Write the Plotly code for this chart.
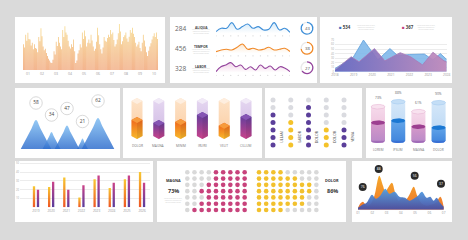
import numpy as np
import plotly.graph_objects as go

W, H = 468, 240
FONT = "Open Sans, Roboto, sans-serif"

# ---------------- data ----------------
spike_values = [
    55, 48, 75, 62, 79, 66, 65, 52, 58, 44,
    55, 47, 45, 38, 70, 61, 89, 72, 50, 42,
    45, 36, 30, 24, 20, 16, 15, 22, 40, 33,
    60, 51, 70, 58, 50, 44, 85, 70, 93, 80,
    75, 62, 50, 46, 55, 49, 65, 40, 15, 20,
    35, 42, 55, 48, 80, 66, 84, 72, 50, 58,
    65, 57, 75, 63, 50, 41, 45, 60, 90, 74,
    55, 44, 35, 48, 70, 62, 60, 68, 75, 70,
    85, 76, 80, 64, 50, 55, 65, 78, 98, 82,
    55, 61, 70, 74, 80, 67, 60, 71, 85, 79,
    90, 77, 70, 58, 50, 54, 60, 47, 40, 58,
    75, 63, 50, 38, 30, 41, 50, 57, 65, 72,
    78, 70, 80, 66]
spike_ticks = ["01", "02", "03", "04", "05", "06", "07", "08", "09", "10"]

kpi_numbers = ["284", "456", "328"]
kpi_names = ["ALIQUA", "TEMPOR", "LABOR"]
ring_numbers = ["43", "38", "27"]
ring_share = [88, 74, 66]
spark_aliqua = [5, 15, 15, 32, 12, 20, 28, 15, 20, 10, 12, 32, 10, 15, 3]
spark_tempor = [5, 10, 12, 10, 18, 28, 12, 15, 10, 12, 18, 10, 12, 15, 5]
spark_labor = [3, 18, 23, 30, 18, 23, 10, 18, 8, 23, 13, 20, 8, 18, 13, 3]

area_years = [2018, 2019, 2020, 2021, 2022, 2023, 2024]
area_yticks = ["0", "10", "20", "30", "40", "50", "60", "70"]
area_blue_x = [2018.0, 2018.98, 2019.53, 2020.3, 2020.95, 2021.38, 2022.0, 2022.8, 2023.26, 2023.66, 2024.0]
area_blue_y = [0.7, 3.2, 7.0, 2.6, 5.1, 3.5, 3.8, 3.9, 2.6, 4.0, 2.7]
area_purple_x = [2018.0, 2018.87, 2019.29, 2020.12, 2020.68, 2021.5, 2022.06, 2022.7, 2023.26, 2023.85, 2024.0]
area_purple_y = [0.4, 3.3, 2.2, 5.1, 2.4, 4.2, 3.3, 1.5, 4.3, 2.4, 2.2]
legend_values = ["534", "367"]

peak_values = [58, 34, 47, 21, 62]

prism_names = ["DOLOR", "MAGNA", "MINIM", "IRURE", "VELIT", "CILLUM"]
prism_levels = [46, 37, 40, 60, 29, 54]

dot_names = ["ULLAM", "LABOR", "DOLOR", "DOLOR", "VENIA"]
dot_filled = [5, 4, 6, 3, 3]
dot_total = 7

cyl_names = ["LOREM", "IPSUM", "MAGNA", "DOLOR"]
cyl_pct = ["73%", "88%", "61%", "90%"]
cyl_height = [34, 39, 29, 38]
cyl_level = [18, 20, 14, 13]

bar_years = ["2019", "2020", "2021", "2022", "2023", "2024", "2025", "2026"]
bar_yticks = ["10", "20", "30", "40", "50"]
bar_orange = [24, 23, 34, 11, 32, 22, 32, 40]
bar_purple = [20, 29, 20, 25, 36, 28, 36, 28]

magna_rows = [5, 5, 6, 7, 6, 7, 8]
dolor_rows = [4, 6, 8, 8, 7, 7, 4]
matrix_cols = 9
magna_pct, dolor_pct = "73%", "86%"

flow_ticks = ["01", "02", "03", "04", "05", "06", "07"]
flow_orange_x = [1.0, 1.15, 1.35, 1.6, 1.85, 2.15, 2.49, 2.75, 2.91, 3.1, 3.38, 3.6, 3.85, 4.08,
                 4.35, 4.6, 4.9, 5.15, 5.48, 5.8, 6.1, 6.45, 6.77, 7.0]
flow_orange_y = [2, 6, 8, 4, 5, 14, 34, 24, 18, 22, 27, 17, 9, 12, 10, 15, 23, 14, 6, 4, 5, 7, 13, 3]
flow_blue_x = [1.0, 1.3, 1.6, 1.98, 2.25, 2.55, 2.91, 3.2, 3.57, 3.9, 4.3, 4.6, 4.9, 5.2, 5.48,
               5.8, 6.06, 6.3, 6.5, 6.75, 7.0]
flow_blue_y = [2, 5, 7, 15, 11, 14, 21, 16, 18, 13, 12, 9, 11, 14, 18, 12, 13, 9, 12, 7, 3]
flow_badge_x = [1.33, 2.45, 4.97, 6.81]
flow_badge_y = [22.7, 40.7, 34, 26]
flow_badge_text = ["76", "88", "56", "37"]

LOREM = "Lorem ipsum dolor sit amet,<br>consectetur adipiscing elit<br>sed do eiusmod tempor"

# ---------------- helpers ----------------
fig = go.Figure()
LA = {}
ANN = []


def axes(n, xpx, ypx, xr, yr, xkw=None, ykw=None):
    base = dict(showgrid=False, zeroline=False, showticklabels=False, ticks='',
                showline=False, fixedrange=True, automargin=False)
    xn = 'x' if n == 1 else f'x{n}'
    yn = 'y' if n == 1 else f'y{n}'
    xa = dict(base, domain=[xpx[0] / W, xpx[1] / W], range=list(xr), anchor=yn)
    ya = dict(base, domain=[1 - ypx[1] / H, 1 - ypx[0] / H], range=list(yr), anchor=xn)
    if xkw:
        xa.update(xkw)
    if ykw:
        ya.update(ykw)
    LA['xaxis' if n == 1 else f'xaxis{n}'] = xa
    LA['yaxis' if n == 1 else f'yaxis{n}'] = ya
    return xn, yn


def vgrad(bottom, top, ys):
    vals = [v for v in ys if v is not None]
    return dict(type='vertical', start=float(min(min(vals), 0) if False else min(vals)),
                stop=float(max(vals)), colorscale=[[0, bottom], [1, top]])


def poly(ax, xs, ys, color=None, grad=None, line=None, shape='linear', fill='toself'):
    xs, ys = list(xs), list(ys)
    kw = dict(x=xs, y=ys, xaxis=ax[0], yaxis=ax[1], mode='lines', fill=fill,
              hoverinfo='skip', showlegend=False)
    kw['line'] = line if line else dict(width=0, shape=shape)
    if grad:
        kw['fillgradient'] = vgrad(grad[0], grad[1], ys)
    else:
        kw['fillcolor'] = color
    fig.add_trace(go.Scatter(**kw))


def text(xp, yp, s, size, color='#555', bold=False, xanchor='center', angle=0, xref='paper', yref='paper'):
    x = xp / W if xref == 'paper' else xp
    y = 1 - yp / H if yref == 'paper' else yp
    ANN.append(dict(x=x, y=y, xref=xref, yref=yref, text=f'<b>{s}</b>' if bold else s,
                    showarrow=False, font=dict(size=size, color=color, family=FONT),
                    xanchor=xanchor, yanchor='middle', textangle=angle))


# ---------------- panels (white cards) ----------------
cards = [(15, 17, 165, 83), (170, 17, 317, 83), (320, 17, 452, 83),
         (15, 88, 120, 158), (123, 88, 262, 158), (265, 88, 362, 158), (366, 88, 452, 158),
         (15, 161, 153, 222), (157, 161, 346, 222), (352, 161, 452, 222)]
shapes = [dict(type='rect', xref='paper', yref='paper', x0=a / W, x1=c / W, y0=1 - d / H, y1=1 - b / H,
               fillcolor='white', line=dict(width=0), layer='below') for a, b, c, d in cards]

# ---------------- panel 1: dense spike bars ----------------
n1 = len(spike_values)
tick_px = np.linspace(28, 154, len(spike_ticks))
ax = axes(1, (23, 158), (23, 70), (-0.5, n1 - 0.5), (0, 100),
          xkw=dict(showticklabels=True, tickvals=list((tick_px - 23) / 135 * n1 - 0.5),
                   ticktext=spike_ticks, tickfont=dict(size=3.5, color='#9a9a9a', family=FONT)))
xs, ys = [], []
for i, v in enumerate(spike_values):
    xs += [i - 0.36, i - 0.36, i + 0.36, i + 0.36, None]
    ys += [0, v, v, 0, None]
poly(ax, xs, ys, grad=('#f0a070', '#f7dc8a'))

# ---------------- panel 2: sparklines with rings ----------------
rows = [(spark_aliqua, 33.3, 'rgba(85,170,230,'),
        (spark_tempor, 53.3, 'rgba(244,160,60,'),
        (spark_labor, 72.7, 'rgba(200,80,160,')]
ring_cols = ['#3f8fd8', '#f08a2a', '#93439c']
for k, (vals, base, fc) in enumerate(rows):
    n = len(vals)
    ax = axes(2 + k, (216, 290), (base - 11.7, base + 3.5), (0, n - 1), (-10.5, 35))
    fig.add_trace(go.Scatter(x=list(range(n)), y=vals, xaxis=ax[0], yaxis=ax[1], mode='lines',
                             line=dict(width=1.1, color=ring_cols[k], shape='spline', smoothing=1.2),
                             fill='tozeroy', fillgradient=vgrad(fc + '0)', fc + '0.25)', [0] + vals),
                             hoverinfo='skip', showlegend=False))
    fig.add_trace(go.Scatter(x=list(np.linspace(0, n - 1, 11)), y=[-8] * 11, xaxis=ax[0], yaxis=ax[1],
                             mode='markers', marker=dict(size=1.2, color='#cfcfcf'),
                             hoverinfo='skip', showlegend=False))
    cy = base - 5
    text(180, cy + 0.5, kpi_numbers[k], 6.5, '#666')
    text(201, cy - 1.3, kpi_names[k], 3.3, '#444', bold=True)
    text(201, cy + 3.2, LOREM, 1.4, '#cfcfcf')
    fig.add_trace(go.Pie(values=[ring_share[k], 100 - ring_share[k]], hole=0.8, sort=False,
                         direction='clockwise', textinfo='none', hoverinfo='skip', showlegend=False,
                         marker=dict(colors=[ring_cols[k], '#e9e9e9'], line=dict(width=0)),
                         domain=dict(x=[300.5 / W, 313.5 / W], y=[1 - (cy + 6.5) / H, 1 - (cy - 6.5) / H])))
    text(307, cy, ring_numbers[k], 4.3, '#555')

# ---------------- panel 3: overlapping area chart ----------------
ax = axes(5, (335, 446.7), (40, 71.7), (2018, 2024), (0, 7),
          xkw=dict(showticklabels=True, tickvals=area_years, ticktext=[str(y) for y in area_years],
                   tickfont=dict(size=3.2, color='#999', family=FONT)),
          ykw=dict(showgrid=True, gridcolor='#ececec', gridwidth=0.6, tickvals=list(range(8)),
                   showticklabels=True, ticktext=area_yticks,
                   tickfont=dict(size=2.6, color='#aaa', family=FONT)))
fig.add_trace(go.Scatter(x=area_blue_x, y=area_blue_y, xaxis=ax[0], yaxis=ax[1], mode='lines',
                         line=dict(width=0.8, color='#5f9fdc'), fill='tozeroy', fillcolor='rgba(128,184,234,0.9)',
                         hoverinfo='skip', showlegend=False))
fig.add_trace(go.Scatter(x=area_purple_x, y=area_purple_y, xaxis=ax[0], yaxis=ax[1], mode='lines',
                         line=dict(width=0.8, color='#a77ab8'), fill='tozeroy',
                         fillgradient=dict(type='horizontal', start=2018, stop=2024,
                                           colorscale=[[0, 'rgba(104,104,192,0.92)'], [1, 'rgba(196,138,186,0.92)']]),
                         hoverinfo='skip', showlegend=False))
text(337, 27.3, f"<span style='color:#3f6fbf'>■</span> <b>{legend_values[0]}</b>", 4.4, '#444', xanchor='left')
text(400, 27.3, f"<span style='color:#c2407f'>■</span> <b>{legend_values[1]}</b>", 4.4, '#444', xanchor='left')
text(355, 27.5, LOREM, 1.4, '#cfcfcf', xanchor='left')
text(415, 27.5, LOREM, 1.4, '#cfcfcf', xanchor='left')

# ---------------- panel 4: mountains with bubbles ----------------
step4 = 15.5
ax = axes(6, (20, 116), (92, 149), (-(36 - 20) / step4, (116 - 36) / step4), (0, 114))
for i, v in enumerate(peak_values):
    hw = (v * 0.5 / 1.9) / step4
    poly(ax, [i - hw, i - 0.3 * hw, i, i + 0.3 * hw, i + hw],
         [0, 0.7 * v, v, 0.7 * v, 0], grad=('rgba(48,110,205,0.85)', 'rgba(128,190,242,0.85)'),
         shape='spline')
fig.add_trace(go.Scatter(x=list(range(len(peak_values))), y=[v + 34 for v in peak_values],
                         xaxis=ax[0], yaxis=ax[1], mode='markers+text', text=[str(v) for v in peak_values],
                         textfont=dict(size=4.8, color='#444', family=FONT), textposition='middle center',
                         marker=dict(size=12.5, color='white', line=dict(color='#cfcfcf', width=0.8)),
                         hoverinfo='skip', showlegend=False))

# ---------------- panel 5: hexagonal prisms ----------------
step5 = 21.8
ax = axes(7, (125, 260), (95, 141), (-(137 - 125) / step5, (260 - 137) / step5), (-14.3, 117.1))
w, d = 5.5 / step5, 8.6
pal5 = [dict(lb='#fbcba0', lt='#fde3c8', face0='#feeedf', fb='#f8ba2a', ft='#ee5d1c', face='#f69a3c'),
        dict(lb='#cdb6e2', lt='#e6d8f1', face0='#f1eaf7', fb='#ca428a', ft='#5a3f9e', face='#8655b4')]
for i, L in enumerate(prism_levels):
    p = pal5[i % 2]
    poly(ax, [i - w, i, i + w, i + w, i, i - w], [0, -d, 0, 100, 100 + d, 100], grad=(p['lb'], p['lt']))
    poly(ax, [i - w, i, i + w, i], [100, 100 + d, 100, 100 - d], color=p['face0'])
    poly(ax, [i - w, i, i + w, i + w, i, i - w], [0, -d, 0, L, L + d, L], grad=(p['fb'], p['ft']))
    poly(ax, [i, i + w, i + w, i], [-d, 0, L, L - d], color='rgba(0,0,0,0.07)')
    poly(ax, [i - w, i, i + w, i], [L, L + d, L, L - d], color=p['face'])
    text(i, 146, prism_names[i], 3.2, '#777', xref=ax[0])

# ---------------- panel 6: dot columns ----------------
step6 = 17.75
ax = axes(8, (265, 362), (92, 152), ((265 - 273) / step6, (362 - 273) / step6), ((145 - 152) / 7.5, (145 - 92) / 7.5))
dcol = ['#5b3f9a', '#f4c22a', '#5b3f9a', '#f4c22a', '#5b3f9a']
dx, dy, dc = [], [], []
for i, f in enumerate(dot_filled):
    for j in range(dot_total):
        dx.append(i)
        dy.append(j)
        dc.append(dcol[i] if j < f else '#dadbe0')
fig.add_trace(go.Scatter(x=dx, y=dy, xaxis=ax[0], yaxis=ax[1], mode='markers',
                         marker=dict(size=5, color=dc), hoverinfo='skip', showlegend=False))
for i, nm in enumerate(dot_names):
    text(i + 0.47, 1.13, nm, 3.6, '#555', angle=-90, xref=ax[0], yref=ax[1])

# ---------------- panel 7: cylinders ----------------
step7 = 20.2
ax = axes(9, (366, 452), (88, 158), (-(378 - 366) / step7, (452 - 378) / step7), (-17.3, 52.7))
rx, ry = 7 / step7, 2.3
t_lo = np.linspace(np.pi, 2 * np.pi, 24)
t_hi = np.linspace(0, np.pi, 24)
t_all = np.linspace(0, 2 * np.pi, 48)
pal7 = [dict(bb='#e9b6d6', bt='#f6dcec', top='#f8e2ef', tl='#e4b0d0', fb='#b889c8', ft='#d99bc9',
             lev='#9c3f90', bot='#a06cb8'),
        dict(bb='#b3d3f3', bt='#d6e8f9', top='#c4def6', tl='#9fc6ee', fb='#3f84dc', ft='#66a9ea',
             lev='#1b78d3', bot='#3a70d4')]
for i, (hgt, lev) in enumerate(zip(cyl_height, cyl_level)):
    p = pal7[i % 2]

    def body(top):
        bx = list(i + rx * np.cos(t_lo)) + list(i + rx * np.cos(t_hi))
        by = list(ry * np.sin(t_lo)) + list(top + ry * np.sin(t_hi))
        return bx, by
    bx, by = body(hgt)
    poly(ax, bx, by, grad=(p['bb'], p['bt']))
    poly(ax, i + rx * np.cos(t_all), hgt + ry * np.sin(t_all), color=p['top'],
         line=dict(width=0.5, color=p['tl']))
    bx, by = body(lev)
    poly(ax, bx, by, grad=(p['fb'], p['ft']))
    poly(ax, i + rx * np.cos(t_lo), ry * np.sin(t_lo), color=p['bot'], fill='toself')
    poly(ax, i + rx * np.cos(t_all), lev + ry * np.sin(t_all), color=p['lev'])
    text(i, hgt + 9, cyl_pct[i], 3.3, '#666', xref=ax[0], yref=ax[1])
    text(i, 150.3, cyl_names[i], 3.1, '#777', xref=ax[0])

# ---------------- panel 8: grouped gradient bars ----------------
step8 = 15.15
ax = axes(10, (20, 150), (160, 207.3), (-(36 - 20) / step8, (150 - 36) / step8), (0, (207.3 - 160) / 0.88),
          xkw=dict(showticklabels=True, tickvals=list(range(len(bar_years))), ticktext=bar_years,
                   tickfont=dict(size=3.2, color='#999', family=FONT)),
          ykw=dict(showgrid=True, gridcolor='#ececec', gridwidth=0.6, tickvals=[10, 20, 30, 40, 50],
                   ticktext=bar_yticks, showticklabels=True, tickfont=dict(size=2.6, color='#aaa', family=FONT)))
bw = 2.3 / step8
for i, (o, pu) in enumerate(zip(bar_orange, bar_purple)):
    c = i - 2 / step8
    poly(ax, [c - bw / 2, c - bw / 2, c + bw / 2, c + bw / 2], [0, o, o, 0], grad=('#ee5424', '#f8c832'))
    c = i + 2 / step8
    poly(ax, [c - bw / 2, c - bw / 2, c + bw / 2, c + bw / 2], [0, pu, pu, 0], grad=('#573c9c', '#cc4288'))

# ---------------- panel 9: dot matrices ----------------
step9 = 7.17
ax = axes(11, (180, 324), (166, 216), ((180 - 187.3) / step9, (324 - 187.3) / step9),
          ((216 - 172.3) / 6.28, (166 - 172.3) / 6.28))
mx, my, mc = [], [], []
for r, cnt in enumerate(magna_rows):
    for c in range(matrix_cols):
        mx.append(c)
        my.append(r)
        mc.append('#c8437c' if c >= matrix_cols - cnt else '#d9d9d9')
for r, cnt in enumerate(dolor_rows):
    for c in range(matrix_cols):
        mx.append(10 + c)
        my.append(r)
        mc.append('#f2c12e' if c < cnt else '#d9d9d9')
fig.add_trace(go.Scatter(x=mx, y=my, xaxis=ax[0], yaxis=ax[1], mode='markers',
                         marker=dict(size=4.6, color=mc), hoverinfo='skip', showlegend=False))
text(173, 180, 'MAGNA', 3.8, '#333', bold=True)
text(173, 191, magna_pct, 5.5, '#333', bold=True)
text(173, 200, LOREM, 1.4, '#cfcfcf')
text(332, 180, 'DOLOR', 3.8, '#333', bold=True)
text(332, 191, dolor_pct, 5.5, '#333', bold=True)

# ---------------- panel 10: smooth overlapping areas ----------------
step10 = 14.28
ax = axes(12, (354, 450), (162, 209.7), (1 - 4 / step10, 1 + 92 / step10), (0, 47.7),
          xkw=dict(showticklabels=True, tickvals=list(range(1, 8)), ticktext=flow_ticks,
                   tickfont=dict(size=3.2, color='#999', family=FONT)))
fig.add_trace(go.Scatter(x=flow_orange_x, y=flow_orange_y, xaxis=ax[0], yaxis=ax[1], mode='lines',
                         line=dict(width=0, shape='spline', smoothing=0.9), fill='tozeroy',
                         fillgradient=vgrad('#ee742c', '#f6aa2a', [0] + flow_orange_y),
                         hoverinfo='skip', showlegend=False))
fig.add_trace(go.Scatter(x=flow_blue_x, y=flow_blue_y, xaxis=ax[0], yaxis=ax[1], mode='lines',
                         line=dict(width=0, shape='spline', smoothing=0.9), fill='tozeroy',
                         fillgradient=vgrad('rgba(74,78,160,0.97)', 'rgba(76,160,232,0.92)', [0] + flow_blue_y),
                         hoverinfo='skip', showlegend=False))
fig.add_trace(go.Scatter(x=flow_badge_x, y=flow_badge_y, xaxis=ax[0], yaxis=ax[1], mode='markers+text',
                         text=flow_badge_text, textposition='middle center',
                         textfont=dict(size=3.4, color='white', family=FONT),
                         marker=dict(size=8, color='#2a2a2a'), hoverinfo='skip', showlegend=False))

fig.update_layout(width=W, height=H, margin=dict(l=0, r=0, t=0, b=0), template='none',
                  paper_bgcolor='#dadada', plot_bgcolor='rgba(0,0,0,0)', showlegend=False,
                  shapes=shapes, annotations=ANN, font=dict(family=FONT), **LA)
fig.write_html("out.html")
